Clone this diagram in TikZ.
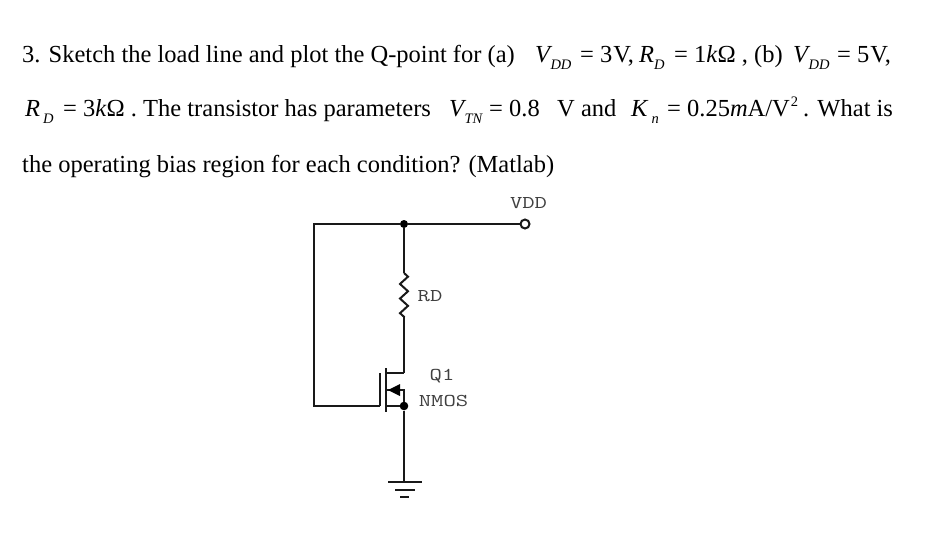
\documentclass[tikz,border=0pt]{standalone}
\usepackage{fontspec}
\setmainfont{Liberation Serif}
\usetikzlibrary{decorations.pathmorphing}
\newcommand{\sbs}[1]{\raisebox{-7pt}{\fontsize{14.5}{15}\selectfont\textit{#1}}}
\tikzset{
  para/.style={anchor=base west,inner sep=0pt,font=\fontsize{24.5}{25}\selectfont},
  part/.style={anchor=center,inner sep=0pt,xscale=1.33,text=black!75,font=\fontsize{18}{18}\selectfont\ttfamily},
  wire/.style={line width=2pt,draw=black!90},
  dot/.style={circle,fill=black,inner sep=0pt,minimum size=#1},
  port/.style={circle,draw=black!90,line width=2pt,fill=white,inner sep=0pt,minimum size=9pt}
}
\begin{document}
\begin{tikzpicture}[x=1pt,y=-1pt]
  \useasboundingbox (0,0) rectangle (931,558);
  % first line
  \node[para] (ta) at (22,62) {3. Sketch the load line and plot the Q-point for (a)};
  \node[para] (tb) at (535,62) {\textit{V}\hspace{-2pt}\sbs{DD}};
  \node[para] (tc) at (580,62) {= 3\hspace{1pt}V,};
  \node[para] (td) at (639,62) {\textit{R}\sbs{D}};
  \node[para] (te) at (674,62) {= 1\textit{k}Ω , (b)};
  \node[para] (tf) at (793,62) {\textit{V}\hspace{-2pt}\sbs{DD}};
  \node[para] (tg) at (837,62) {= 5\hspace{1pt}V,};
  % second line
  \node[para] (ua) at (25,116) {\textit{R}\hspace{3pt}\sbs{D}};
  \node[para] (ub) at (63,116) {= 3\textit{k}Ω .};
  \node[para] (uc) at (143,116) {The transistor has parameters};
  \node[para] (ud) at (449,116) {\textit{V}\hspace{-2pt}\sbs{TN}};
  \node[para] (ue) at (489,116) {= 0.8};
  \node[para] (uf) at (557,116) {V and};
  \node[para] (ug) at (631,116) {\textit{K}\hspace{3pt}\sbs{n}};
  \node[para] (uh) at (667,116) {= 0.25\textit{m}A/V\raisebox{10pt}{\fontsize{14.5}{15}\selectfont\hspace{1pt}2}};
  \node[para] (ui) at (803,116) {. What is};
  % third line
  \node[para] (va) at (22,172) {the operating bias region for each condition? (Matlab)};
  % top rail
  \node[dot=8pt] (top) at (404,224) {};
  \node[port] (vdd) at (525,224) {};
  \coordinate (corner) at (314,224);
  \coordinate (gatein) at (314,406);
  \coordinate (gate) at (380,406);
  \draw[wire] (vdd) -- (top) -- (corner) -- (gatein) -- (gate);
  % resistor
  \coordinate (rtop) at (404,273);
  \coordinate (rbot) at (404,317);
  \coordinate (drain) at (404,373);
  \draw[wire] (top) -- (rtop);
  \draw[wire,decorate,decoration={zigzag,segment length=14.6pt,amplitude=4pt}] (rtop) -- (rbot);
  \draw[wire] (rbot) -- (drain);
  % transistor
  \coordinate (gatetop) at (380,373);
  \coordinate (chtop) at (386,368);
  \coordinate (chbot) at (386,412);
  \coordinate (chdrain) at (386,373);
  \coordinate (chbody) at (386,390);
  \coordinate (chsrc) at (386,406);
  \coordinate (body) at (404,390);
  \node[dot=8.6pt] (source) at (404,406) {};
  \draw[wire] (gate) -- (gatetop);
  \draw[wire] (chtop) -- (chbot);
  \draw[wire] (chdrain) -- (drain);
  \draw[wire] (chsrc) -- (source);
  \draw[wire] (chbody) -- (body) -- (source);
  \fill (388,390) -- (400,384) -- (400,396) -- cycle;
  % ground
  \coordinate (gnd) at (404,482);
  \coordinate (gnda) at (388,482);
  \coordinate (gndb) at (422,482);
  \coordinate (gndc) at (395,490);
  \coordinate (gndd) at (415,490);
  \coordinate (gnde) at (400,497);
  \coordinate (gndf) at (409,497);
  \draw[wire] (source) -- (gnd);
  \draw[wire] (gnda) -- (gndb);
  \draw[wire] (gndc) -- (gndd);
  \draw[wire] (gnde) -- (gndf);
  % labels
  \node[part] (vddlab) at (528.5,203) {VDD};
  \node[part] (rdlab) at (430,296) {RD};
  \node[part] (qlab) at (442,376) {Q1};
  \node[part] (nmoslab) at (443.5,401) {NMOS};
\end{tikzpicture}
\end{document}
